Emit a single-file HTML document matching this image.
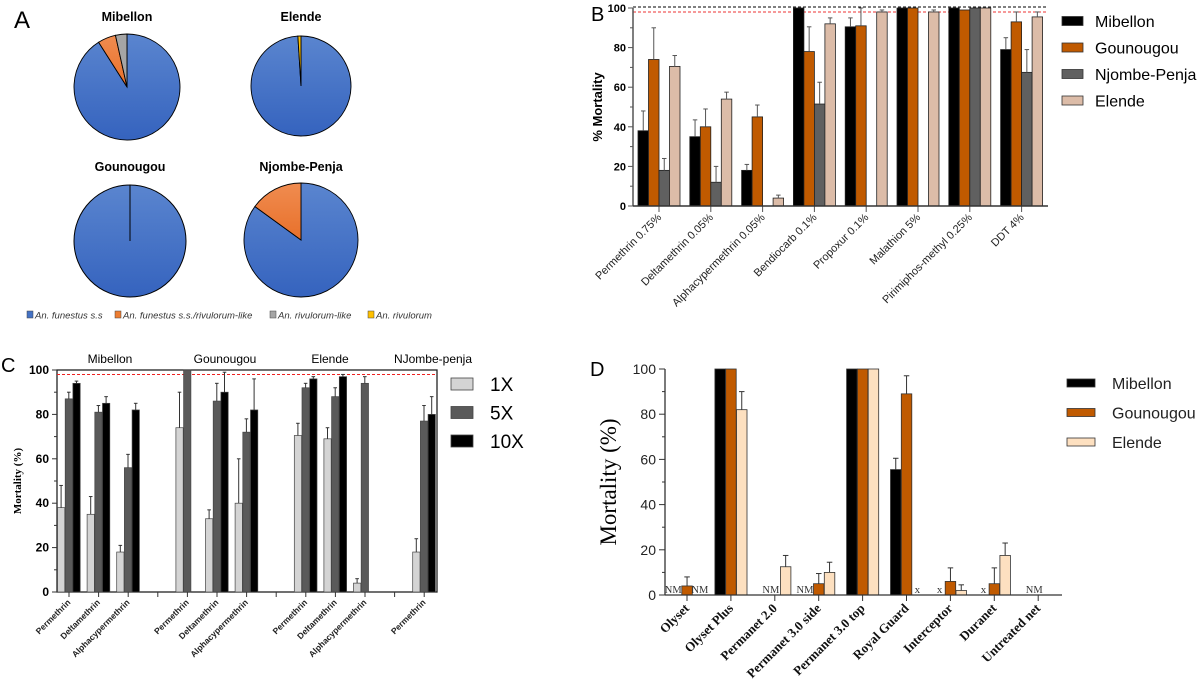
<!DOCTYPE html>
<html><head><meta charset="utf-8"><style>
html,body{margin:0;padding:0;background:#fff;}
svg{display:block;font-family:"Liberation Sans",sans-serif;}
</style></head><body>
<svg id="fig" width="1200" height="683" viewBox="0 0 1200 683" xmlns="http://www.w3.org/2000/svg">
<defs><linearGradient id="blueg" x1="0" y1="0" x2="0" y2="1"><stop offset="0" stop-color="#5a85cf"/><stop offset="1" stop-color="#3563be"/></linearGradient>
<linearGradient id="orgg" x1="0" y1="0" x2="0" y2="1"><stop offset="0" stop-color="#f08c50"/><stop offset="1" stop-color="#e8702a"/></linearGradient></defs>
<g id="pA"></g>
<g id="pB"></g>
<g id="pC"></g>
<g id="pD"></g>
</svg>
<script>
// ---- Panel A data
const pieSites = ["Mibellon","Elende","Gounougou","Njombe-Penja"];
const pieFunestus = [91, 99, 100, 85];
const pieHybrid = [5.5, 0, 0, 15];
const pieRivLike = [3.5, 0, 0, 0];
const pieRivulorum = [0, 1, 0, 0];
const pieSpecies = ["An. funestus s.s","An. funestus s.s./rivulorum-like","An. rivulorum-like","An. rivulorum"];
// ---- Panel B data
const bCats = ["Permethrin 0.75%","Deltamethrin 0.05%","Alphacypermethrin 0.05%","Bendiocarb 0.1%","Propoxur 0.1%","Malathion 5%","Pirimiphos-methyl 0.25%","DDT 4%"];
const bSites = ["Mibellon","Gounougou","Njombe-Penja","Elende"];
const bMib = [38,35,18,100,90.5,100,100,79];
const bGou = [74,40,45,78,91,100,99,93];
const bNjo = [18,12,null,51.5,null,null,100,67.5];
const bEle = [70.5,54,4,92,98,98,100,95.5];
const bMibErr = [48,43.5,21,null,95,null,null,85];
const bGouErr = [90,49,51,90.5,100,null,null,98];
const bNjoErr = [24,20,null,62.5,null,null,null,79];
const bEleErr = [76,57.5,5.5,95,99,99,null,98];
const bTicks = [0,20,40,60,80,100];
// ---- Panel C data
const cCats = ["Permethrin","Deltamethrin","Alphacypermethrin","","Permethrin","Deltamethrin","Alphacypermethrin","","Permethrin","Deltamethrin","Alphacypermethrin","","Permethrin"];
const cGroups = ["Mibellon","Gounougou","Elende","NJombe-penja"];
const c1X = [38,35,18,null,74,33,40,null,70.5,69,4,null,18];
const c5X = [87,81,56,null,100,86,72,null,92,88,94,null,77];
const c10X = [94,85,82,null,null,90,82,null,96,97,null,null,80];
const c1XErr = [48,43,21,null,90,37,60,null,76,74,6,null,24];
const c5XErr = [90,84,62,null,null,94,78,null,94,92,97,null,84];
const c10XErr = [95,88,85,null,null,99,96,null,97,98,null,null,88];
const cTicks = [0,20,40,60,80,100];
// ---- Panel D data
const dCats = ["Olyset","Olyset Plus","Permanet 2.0","Permanet 3.0 side","Permanet 3.0 top","Royal Guard","Interceptor","Duranet","Untreated net"];
const dMib = [null,100,null,null,100,55.5,null,null,null];
const dGou = [4,100,null,5,100,89,6,5,null];
const dEle = [null,82,12.5,10,100,null,2,17.5,null];
const dMibErr = [null,null,null,null,null,60.5,null,null,null];
const dGouErr = [8,null,null,9.5,null,97,12,12,null];
const dEleErr = [null,90,17.5,14.5,null,null,4.5,23,null];
const dMibNote = ["NM","","","NM","","","x","x",""];
const dGouNote = ["","","NM","","","","","","NM"];
const dEleNote = ["NM","","","","","x","","",""];
const dTicks = [0,20,40,60,80,100];

const NS="http://www.w3.org/2000/svg";
function mk(parent,tag,attrs,text){const e=document.createElementNS(NS,tag);for(const k in attrs)e.setAttribute(k,attrs[k]);if(text!==undefined)e.textContent=text;parent.appendChild(e);return e;}

// ================= Panel A
const pA=document.getElementById('pA');
let t=mk(pA,'text',{x:14,y:28,'font-size':24});t.textContent='A';


const pieCx=[127,301,130,301], pieCy=[87,86,241,240], pieR=[53,50,56,57], pieTy=[21,21,171,171];
const pieCols=["url(#blueg)","url(#orgg)","#a5a5a5","#ffc000"];
pieSites.forEach((s,i)=>{
  const tt=mk(pA,'text',{x:pieCx[i],y:pieTy[i],'text-anchor':'middle','font-size':12.5,'font-weight':'bold'},s);
  
  
  const vals=[pieFunestus[i],pieHybrid[i],pieRivLike[i],pieRivulorum[i]];
  const tot=vals.reduce((a,b)=>a+b,0);
  let ang=0;
  vals.forEach((v,k)=>{
    if(v<=0)return;
    const a0=ang, a1=ang+v/tot*360; ang=a1;
    const cx=pieCx[i],cy=pieCy[i],r=pieR[i];
    const p=(a)=>[cx+r*Math.sin(a*Math.PI/180),cy-r*Math.cos(a*Math.PI/180)];
    let el;
    if(v>=tot){el=mk(pA,'circle',{cx:cx,cy:cy,r:r,fill:pieCols[k],stroke:'#000','stroke-width':1});
      mk(pA,'line',{x1:cx,y1:cy-r,x2:cx,y2:cy,stroke:'#000','stroke-width':1});}
    else{const [x0,y0]=p(a0),[x1,y1]=p(a1);
      el=mk(pA,'path',{d:`M${cx},${cy}L${x0},${y0}A${r},${r} 0 ${a1-a0>180?1:0} 1 ${x1},${y1}Z`,fill:pieCols[k],stroke:'#000','stroke-width':0.9});}
    
    
  });
});
const legX=[27,115,270,368];
pieSpecies.forEach((s,k)=>{
  const r=mk(pA,'rect',{x:legX[k],y:311,width:6,height:7,fill:['#4472c4','#ed7d31','#a5a5a5','#ffc000'][k],stroke:'#444','stroke-width':0.5});
  
  
  const tx=mk(pA,'text',{x:legX[k]+8,y:318.5,'font-size':9.5,'font-style':'italic',fill:'#333'},s);
  
  
});

// ================= Panel B
const pB=document.getElementById('pB');
mk(pB,'text',{x:591,y:21,'font-size':20},'B');
const bL=633,bR=1048,bTop=8,bBot=206;
const byS=v=>bBot-(bBot-bTop)*v/100;
const bxS=i=>659+i*51.8;
mk(pB,'line',{x1:bL,y1:byS(100)-1,x2:bR,y2:byS(100)-1,stroke:'#000','stroke-dasharray':'3,2','stroke-width':1});
mk(pB,'line',{x1:bL,y1:byS(98),x2:bR,y2:byS(98),stroke:'#e33','stroke-dasharray':'3,2','stroke-width':1});
const bSer=[bMib,bGou,bNjo,bEle], bErr=[bMibErr,bGouErr,bNjoErr,bEleErr];
const bCol=['#000','#c05a00','#606060','#dcbca8'];
bCats.forEach((c,i)=>{
  bSer.forEach((ser,k)=>{
    const v=ser[i]; if(v==null)return;
    const x=bxS(i)-21+k*10.5;
    const r=mk(pB,'rect',{x:x,y:byS(v),width:10.5,height:bBot-byS(v),fill:bCol[k],stroke:'#222','stroke-width':0.8});
    
    
    const e=bErr[k][i];
    if(e!=null){mk(pB,'line',{x1:x+5.25,y1:byS(v),x2:x+5.25,y2:byS(e),stroke:'#555','stroke-width':1});
      mk(pB,'line',{x1:x+3,y1:byS(e),x2:x+7.5,y2:byS(e),stroke:'#555','stroke-width':1});}
  });
  mk(pB,'line',{x1:bxS(i),y1:bBot,x2:bxS(i),y2:bBot+6,stroke:'#555','stroke-width':1});
  const tx=mk(pB,'text',{transform:`translate(${bxS(i)+3},${bBot+12}) rotate(-45)`,'text-anchor':'end','font-size':11,fill:'#222'},c);
  
  
});
mk(pB,'line',{x1:bL,y1:bTop,x2:bL,y2:bBot,stroke:'#555','stroke-width':1.5});
mk(pB,'line',{x1:bL,y1:bBot,x2:bR,y2:bBot,stroke:'#333','stroke-width':1.5});
for(let v=0;v<=100;v+=10)mk(pB,'line',{x1:bL-(v%20?3:5),y1:byS(v),x2:bL,y2:byS(v),stroke:'#555','stroke-width':1});
bTicks.forEach(v=>mk(pB,'text',{x:bL-7,y:byS(v)+4,'text-anchor':'end','font-size':11,'font-weight':'bold'},v));
t=mk(pB,'text',{transform:'translate(602,107) rotate(-90)','text-anchor':'middle','font-size':13,'font-weight':'bold'},'% Mortality');


bSites.forEach((s,k)=>{
  const y=21+k*26.5;
  mk(pB,'rect',{x:1062,y:y-4.5,width:21,height:9,fill:bCol[k],stroke:'#333','stroke-width':0.8});
  const tx=mk(pB,'text',{x:1095,y:y+6,'font-size':16},s);
  
  
});

// ================= Panel C
const pC=document.getElementById('pC');
mk(pC,'text',{x:1,y:372,'font-size':20},'C');
const cL=57,cR=437,cTop=370,cBot=592;
const cyS=v=>cBot-(cBot-cTop)*v/100;
const cxS=i=>69+i*29.6;
mk(pC,'rect',{x:cL,y:cTop,width:cR-cL,height:cBot-cTop,fill:'none',stroke:'#222','stroke-width':1.3});
mk(pC,'line',{x1:cL,y1:cyS(98),x2:cR,y2:cyS(98),stroke:'#e22','stroke-dasharray':'3,2','stroke-width':1});
const cSer=[c1X,c5X,c10X],cErr=[c1XErr,c5XErr,c10XErr],cCol=['#d4d4d4','#5a5a5a','#000'],cNames=['1X','5X','10X'];
cCats.forEach((c,i)=>{
  cSer.forEach((ser,k)=>{
    const v=ser[i]; if(v==null)return;
    const x=cxS(i)-11.5+k*7.7;
    const r=mk(pC,'rect',{x:x,y:cyS(v),width:7.3,height:cBot-cyS(v),fill:cCol[k],stroke:'#444','stroke-width':0.7});
    
    
    const e=cErr[k][i];
    if(e!=null){mk(pC,'line',{x1:x+3.6,y1:cyS(v),x2:x+3.6,y2:cyS(e),stroke:'#333','stroke-width':1});
      mk(pC,'line',{x1:x+1.8,y1:cyS(e),x2:x+5.4,y2:cyS(e),stroke:'#333','stroke-width':1});}
  });
  mk(pC,'line',{x1:cxS(i),y1:cBot,x2:cxS(i),y2:cBot+5,stroke:'#333','stroke-width':1});
  if(c){const tx=mk(pC,'text',{transform:`translate(${cxS(i)+2},${cBot+11}) rotate(-45)`,'text-anchor':'end','font-size':8.5,'font-weight':'bold',fill:'#222'},c);
  
  }
});
for(let v=0;v<=100;v+=10)mk(pC,'line',{x1:cL-(v%20?3:5),y1:cyS(v),x2:cL,y2:cyS(v),stroke:'#333','stroke-width':1});
cTicks.forEach(v=>mk(pC,'text',{x:cL-8,y:cyS(v)+4,'text-anchor':'end','font-size':12,'font-weight':'bold'},v));
t=mk(pC,'text',{transform:'translate(21,481) rotate(-90)','text-anchor':'middle','font-size':11,'font-weight':'bold','font-family':'Liberation Serif,serif'},'Mortality (%)');


const cGX=[110,225,330,433];
cGroups.forEach((g,i)=>{const tx=mk(pC,'text',{x:cGX[i],y:363,'text-anchor':'middle','font-size':12},g);
  
  });
cNames.forEach((n,k)=>{
  const y=384+k*28.5;
  mk(pC,'rect',{x:451,y:y-6,width:22,height:12,fill:cCol[k],stroke:'#444','stroke-width':0.8});
  const tx=mk(pC,'text',{x:490,y:y+7,'font-size':19},n);
  
  
});

// ================= Panel D
const pD=document.getElementById('pD');
mk(pD,'text',{x:590,y:376,'font-size':20},'D');
const dL=665,dR=1062,dTop=369,dBot=595;
const dyS=v=>dBot-(dBot-dTop)*v/100;
const dxS=i=>687+i*43.9;
const dSer=[dMib,dGou,dEle],dErr=[dMibErr,dGouErr,dEleErr],dNote=[dMibNote,dGouNote,dEleNote];
const dCol=['#000','#c05a00','#fde0c0'],dNames=['Mibellon','Gounougou','Elende'];
dCats.forEach((c,i)=>{
  dSer.forEach((ser,k)=>{
    const x=dxS(i)-16+k*10.8;
    const v=ser[i];
    if(v!=null){
      const r=mk(pD,'rect',{x:x,y:dyS(v),width:10.5,height:dBot-dyS(v),fill:dCol[k],stroke:'#333','stroke-width':0.8});
      
      
      const e=dErr[k][i];
      if(e!=null){mk(pD,'line',{x1:x+5.25,y1:dyS(v),x2:x+5.25,y2:dyS(e),stroke:'#333','stroke-width':1});
        mk(pD,'line',{x1:x+2.5,y1:dyS(e),x2:x+8,y2:dyS(e),stroke:'#333','stroke-width':1});}
    }
    const n=dNote[k][i];
    if(n){const tx=mk(pD,'text',{x:x+5.25+(k===1?-4:0)+(k===0&&n==='NM'?-3:0)+(k===2&&n==='NM'?2:0),y:dBot-2,'text-anchor':'middle','font-size':n==='x'?11:10.5,'font-family':'Liberation Serif,serif',fill:'#333'},n);
      
      }
  });
  mk(pD,'line',{x1:dxS(i),y1:dBot,x2:dxS(i),y2:dBot+6,stroke:'#333','stroke-width':1});
  const tx=mk(pD,'text',{transform:`translate(${dxS(i)+3},${dBot+14}) rotate(-45)`,'text-anchor':'end','font-size':13,'font-weight':'bold','font-family':'Liberation Serif,serif',fill:'#111'},c);
  
  
});
mk(pD,'line',{x1:dL,y1:dTop,x2:dL,y2:dBot,stroke:'#333','stroke-width':1.3});
mk(pD,'line',{x1:dL,y1:dBot,x2:dR,y2:dBot,stroke:'#333','stroke-width':1.3});
for(let v=0;v<=100;v+=10)mk(pD,'line',{x1:dL-(v%20?3:6),y1:dyS(v),x2:dL,y2:dyS(v),stroke:'#333','stroke-width':1});
dTicks.forEach(v=>mk(pD,'text',{x:dL-9,y:dyS(v)+5,'text-anchor':'end','font-size':14,fill:'#222'},v));
t=mk(pD,'text',{transform:'translate(616,482) rotate(-90)','text-anchor':'middle','font-size':23,'font-family':'Liberation Serif,serif'},'Mortality (%)');


dNames.forEach((s,k)=>{
  const y=383+k*29.5;
  mk(pD,'rect',{x:1067,y:y-4,width:28,height:8,fill:dCol[k],stroke:'#333','stroke-width':0.8});
  const tx=mk(pD,'text',{x:1112,y:y+6,'font-size':16,fill:'#222'},s);
  
  
});
</script>
</body></html>
